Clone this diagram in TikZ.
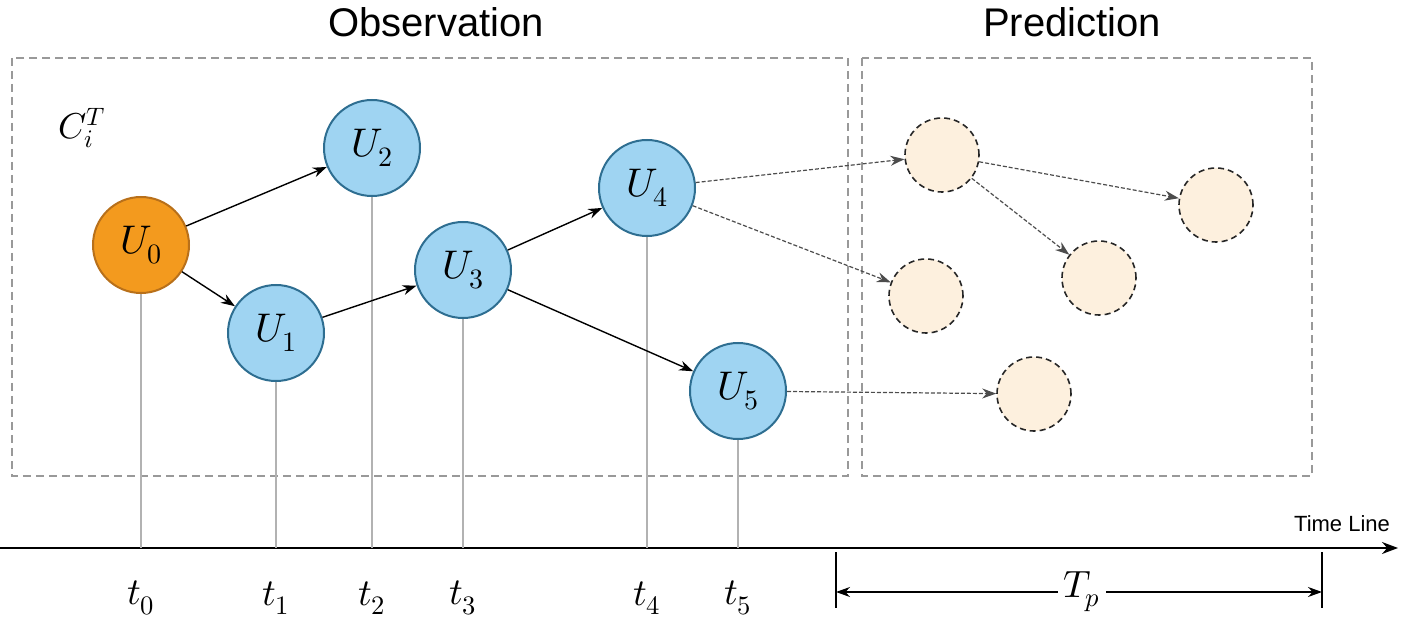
\documentclass[tikz,border=0pt]{standalone}
\usepackage{fontspec}
\usepackage{unicode-math}
\setsansfont{Liberation Sans}
\setmathfont{Latin Modern Math}
\usetikzlibrary{arrows.meta}
\definecolor{ublue}{HTML}{9FD4F2}
\definecolor{ubord}{HTML}{2E6E91}
\definecolor{uor}{HTML}{F39A1E}
\definecolor{uorb}{HTML}{B8701A}
\definecolor{pfill}{HTML}{FDF0DE}
\tikzset{
 obs/.style={circle,draw=ubord,line width=2pt,fill=ublue,minimum size=96pt,inner sep=0pt,font=\fontsize{40}{42}\selectfont},
 org/.style={obs,draw=uorb,fill=uor},
 pred/.style={circle,draw=black!85,line width=1.6pt,dash pattern=on 6pt off 4pt,fill=pfill,minimum size=74pt,inner sep=0pt},
 box/.style={draw=black!40,line width=2pt,dash pattern=on 8pt off 5pt},
 sarr/.style={-{Stealth[length=14pt,width=10pt]},line width=1.4pt},
 darr/.style={-{Stealth[length=14pt,width=10pt]},line width=1.2pt,black!70,dash pattern=on 4pt off 2pt},
 vline/.style={black!30,line width=1.5pt},
 tlab/.style={font=\fontsize{38}{40}\selectfont},
}
\begin{document}
\begin{tikzpicture}[x=1pt,y=-1pt]
\useasboundingbox (0,0) rectangle (1425,628);
\draw[box] (12,58) rectangle (848,476);
\draw[box] (862,58) rectangle (1312,476);
\node[font=\sffamily\fontsize{40}{42}\selectfont] (tobs) at (436,22) {Observation};
\node[font=\sffamily\fontsize{40}{42}\selectfont] (tpred) at (1072,22) {Prediction};
\node[font=\fontsize{36}{38}\selectfont] (c) at (82,128) {$C_i^T$};
% timeline
\coordinate (tl0) at (0,548);
\coordinate (tl1) at (1398,548);
\draw[-{Stealth[length=16pt,width=12pt]},line width=1.5pt] (tl0) -- (tl1);
\node[font=\sffamily\fontsize{22}{24}\selectfont] (tl) at (1342,524) {Time Line};
% vertical lines and t labels
\foreach \n/\x/\y/\i in {a/141/245/0,b/276/333/1,c/372/148/2,d/463/270/3,e/647/188/4,f/738/391/5}{
 \coordinate (v\n) at (\x,548);
 \draw[vline] (\x,\y) -- (v\n);
 \node[tlab] (t\n) at (\x,598) {$t_\i$};
}
\node[org] (U0) at (141,245) {$U_0$};
\node[obs] (U1) at (276,333) {$U_1$};
\node[obs] (U2) at (372,148) {$U_2$};
\node[obs] (U3) at (463,270) {$U_3$};
\node[obs] (U4) at (647,188) {$U_4$};
\node[obs] (U5) at (738,391) {$U_5$};
\node[pred] (P1) at (942,155) {};
\node[pred] (P2) at (1216,205) {};
\node[pred] (P3) at (1099,278) {};
\node[pred] (P4) at (926,296) {};
\node[pred] (P5) at (1034,394) {};
\draw[sarr] (U0) -- (U2);
\draw[sarr] (U0) -- (U1);
\draw[sarr] (U1) -- (U3);
\draw[sarr] (U3) -- (U4);
\draw[sarr] (U3) -- (U5);
\draw[darr] (U4) -- (P1);
\draw[darr] (U4) -- (P4);
\draw[darr] (U5) -- (P5);
\draw[darr] (P1) -- (P2);
\draw[darr] (P1) -- (P3);
% Tp
\coordinate (q0) at (836,552); \coordinate (q1) at (836,608);
\coordinate (r0) at (1322,552); \coordinate (r1) at (1322,608);
\draw[line width=1.5pt] (q0) -- (q1);
\draw[line width=1.5pt] (r0) -- (r1);
\coordinate (ta) at (836,592); \coordinate (tb) at (1322,592);
\draw[{Stealth[length=14pt,width=10pt]}-{Stealth[length=14pt,width=10pt]},line width=1.5pt] (ta) -- (tb);
\node[tlab,fill=white,inner sep=6pt] (Tp) at (1082,592) {$T_p$};
\end{tikzpicture}
\end{document}
